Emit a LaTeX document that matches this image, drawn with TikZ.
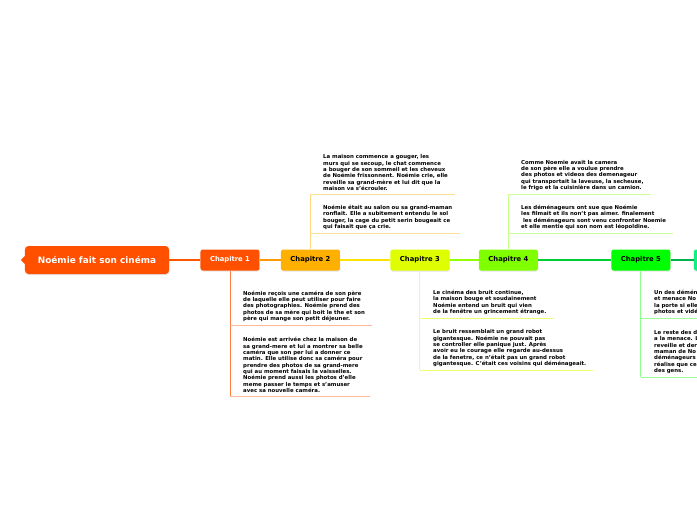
\documentclass[tikz,border=0pt]{standalone}
\usepackage{fontspec}
\setmainfont{DejaVu Sans}
\usetikzlibrary{positioning, shadows, calc}
\definecolor{mmred}{HTML}{FF5000}
\definecolor{mmamber}{HTML}{FFB000}
\definecolor{mmyellow}{HTML}{DFFF00}
\definecolor{mmlime}{HTML}{80FF00}
\definecolor{mmgreen}{HTML}{00FF00}
\definecolor{mmmint}{HTML}{10F080}

\begin{document}
\begin{tikzpicture}[x=0.03cm, y=-0.03cm,
    ch/.style={fill=#1, rounded corners=2pt, minimum width=1.77cm, minimum height=0.63cm, inner sep=0pt, font=\fontsize{5.8}{6}\selectfont\bfseries, drop shadow={opacity=0.2, shadow xshift=0.4pt, shadow yshift=-1pt}},
    tp/.style={anchor=south west, align=left, inner xsep=0.21cm, inner ysep=0.09cm, font=\fontsize{4.6}{5.45}\selectfont\bfseries},
    ln/.style={draw=#1, line width=1.3pt},
    br/.style={draw=#1, line width=0.8pt}]
  \path[use as bounding box, fill=white] (0,0) rectangle (697,520);
  \coordinate (edge) at (697,0);

  \node[fill=mmred, rounded corners=3pt, minimum width=4.32cm, minimum height=0.84cm, text=white, font=\fontsize{7.6}{8}\selectfont\bfseries, drop shadow={opacity=0.2, shadow xshift=0.4pt, shadow yshift=-1pt}] (r) at (97,260) {Noémie fait son cinéma};
  \fill[mmred] ($(r.west)+(0,-4)$) -- ($(r.west)+(-4,0)$) -- ($(r.west)+(0,4)$) -- cycle;

  \node[ch=mmred, text=white, right=0.93cm of r] (c1) {Chapitre 1};
  \node[ch=mmamber, right=0.63cm of c1] (c2) {Chapitre 2};
  \node[ch=mmyellow, right=1.5cm of c2] (c3) {Chapitre 3};
  \node[ch=mmlime, right=0.87cm of c3] (c4) {Chapitre 4};
  \node[ch=mmgreen, right=2.19cm of c4] (c5) {Chapitre 5};
  \node[ch=mmmint, right=0.69cm of c5] (c6) {};

  \draw[ln=mmred!90!orange] (r) -- (c1);
  \draw[ln=orange!80!yellow] (c1) -- (c2);
  \draw[ln=yellow!85!orange] (c2) -- (c3);
  \draw[ln=mmlime!80!mmyellow] (c3) -- (c4);
  \draw[ln=green!60!teal] (c4) -- (c5);
  \draw[ln=teal!60!green] (c5) -- (c6);

  \node[tp] (t11) at (236,325) {Noémie reçois une caméra de son père\\de laquelle elle peut utiliser pour faire\\des photographies. Noémie prend des\\photos de sa mère qui boit le the et son\\père qui mange son petit déjeuner.};
  \node[tp] (t12) at (236,396) {Noémie est arrivée chez la maison de\\sa grand-mere et lui a montrer sa belle\\caméra que son per lui a donner ce\\matin. Elle utilise donc sa caméra pour\\prendre des photos de sa grand-mere\\qui au moment faisais la vaisselles.\\Noémie prend aussi les photos d'elle\\meme passer le temps et s'amuser\\avec sa nouvelle caméra.};
  \draw[br=mmred!75] (c1.south) -- (c1.south |- t12.south);
  \draw[br=mmred!40] (c1.south |- t11.south) -- (t11.south east);
  \draw[br=mmred!40] (c1.south |- t12.south) -- (t12.south east);

  \node[tp] (t21) at (316,194) {La maison commence a gouger, les\\murs qui se secoup, le chat commence\\a bouger de son sommeil et les cheveux\\de Noémie frissonnent. Noémie crie, elle\\reveille sa grand-mère et lui dit que la\\maison va s'écrouler.};
  \node[tp] (t22) at (316,233) {Noémie était au salon ou sa grand-maman\\ronflait. Elle a subitement entendu le sol\\bouger, la cage du petit serin bougeait ce\\qui faisait que ça crie.};
  \draw[br=mmamber!50] (c2.north) -- (c2.north |- t21.south);
  \draw[br=mmamber!40] (c2.north |- t21.south) -- (t21.south east);
  \draw[br=mmamber!40] (c2.north |- t22.south) -- (t22.south east);

  \node[tp] (t31) at (426,318) {Le cinéma des bruit continue,\\la maison bouge et soudainement\\Noémie entend un bruit qui vien\\de la fenêtre un grincement étrange.};
  \node[tp] (t32) at (426,370) {Le bruit ressemblait un grand robot\\gigantesque. Noémie ne pouvait pas\\se controller elle panique just. Après\\avoir eu le courage elle regarde au-dessus\\de la fenetre, ce n'était pas un grand robot\\gigantesque. C'était ces voisins qui déménageait.};
  \draw[br=mmyellow!55] (c3.south) -- (c3.south |- t32.south);
  \draw[br=mmyellow!55] (c3.south |- t31.south) -- (t31.south east);
  \draw[br=mmyellow!55] (c3.south |- t32.south) -- (t32.south east);

  \node[tp] (t41) at (514,194) {Comme Noemie avait la camera\\de son père elle a voulue prendre\\des photos et videos des demenageur\\qui transportait la laveuse, la secheuse,\\le frigo et la cuisinière dans un camion.};
  \node[tp] (t42) at (514,233) {Les déménageurs ont sue que Noémie\\les filmait et ils non't pas aimer. finalement\\\ les déménageurs sont venu confronter Noemie\\et elle mentie qui son nom est léopoldine.};
  \draw[br=mmlime!45] (c4.north) -- (c4.north |- t41.south);
  \draw[br=mmlime!40] (c4.north |- t41.south) -- (t41.south east);
  \draw[br=mmlime!40] (c4.north |- t42.south) -- (t42.south east);

  \node[tp] (t51) at (647,318) {Un des démén\\et menace No\\la porte si elle\\photos et vidé};
  \node[tp] (t52) at (647,377) {Le reste des d\\a la menace. L\\reveille et der\\maman de No\\déménageurs\\réalise que ce\\des gens.};
  \draw[br=mmgreen!45] (c5.south) -- (c5.south |- t52.south);
  \draw[br=mmgreen!40] (c5.south |- t51.south) -- (edge |- t51.south);
  \draw[br=mmgreen!40] (c5.south |- t52.south) -- (edge |- t52.south);
\end{tikzpicture}
\end{document}
